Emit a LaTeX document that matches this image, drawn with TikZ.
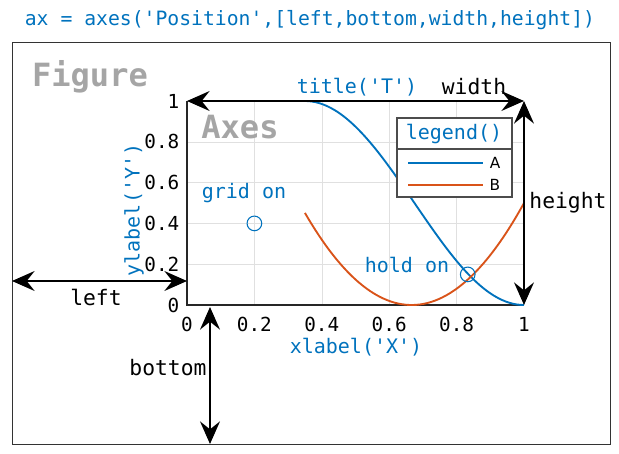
\documentclass[tikz,border=0pt]{standalone}
\usepackage{fontspec}
\setmainfont{DejaVu Sans Mono}
\newfontfamily\lab{DejaVu Sans}
\usetikzlibrary{arrows.meta}
\definecolor{mblue}{RGB}{0,114,189}
\definecolor{morange}{RGB}{217,83,25}
\definecolor{lgray}{RGB}{165,165,165}
\newcommand\q{\textquotesingle}
\begin{document}
\begin{tikzpicture}[x=0.75pt,y=-0.75pt,
  dim/.style={{Stealth[length=17pt,width=15pt,inset=6pt]}-{Stealth[length=17pt,width=15pt,inset=6pt]},line width=1pt},
  tick/.style={font=\fontsize{14.5}{16}\selectfont},
  btxt/.style={text=mblue,font=\fontsize{15}{17}\selectfont},
  ktxt/.style={font=\fontsize{16}{18}\selectfont},
  big/.style={text=lgray,font=\bfseries\fontsize{24}{26}\selectfont}]
\useasboundingbox (0,0) rectangle (619,454);
\node[btxt,font=\fontsize{14.8}{16}\selectfont] (cmd) at (310,20) {ax = axes(\q Position\q,[left,bottom,width,height])};
\draw[line width=0.7pt,black!80] (12,42) rectangle (610,444);
\node[big] (fig) at (90,77) {Figure};
% grid
\foreach \u in {0.2,0.4,0.6,0.8}{\draw[black!12] ({187+337*\u},101) -- ({187+337*\u},305);}
\foreach \v in {0.2,0.4,0.6,0.8}{\draw[black!12] (187,{305-204*\v}) -- (524,{305-204*\v});}
\node[big] (axl) at (240,127) {Axes};
% axes lines
\draw[line width=0.8pt,black!85] (187,101) coordinate (tl) -- (187,305) coordinate (o) -- (524,305) coordinate (br);
\coordinate (tr) at (524,101);
\foreach \u/\t in {0/0,0.2/0.2,0.4/0.4,0.6/0.6,0.8/0.8,1/1}{\node[tick] at ({187+337*\u},324) {\t};}
\foreach \v/\t in {0/0,0.2/0.2,0.4/0.4,0.6/0.6,0.8/0.8,1/1}{\node[tick,anchor=east] at (184,{305-204*\v}) {\t};}
% curves
\draw[mblue,line width=1.4pt] plot[domain=0.35:1,samples=60,smooth] ({187+337*\x},{305-204*(1+cos(180*(\x-0.35)/0.65))/2});
\draw[morange,line width=1.4pt] plot[domain=0.35:1,samples=60,smooth] ({187+337*\x},{305-204*4.5*(\x-0.6667)^2});
\node[draw=mblue,circle,minimum size=11pt,inner sep=0pt,thick] (gc) at ({187+337*0.2},{305-204*0.4}) {};
\node[draw=mblue,circle,minimum size=11pt,inner sep=0pt,thick] (hc) at ({187+337*0.833},{305-204*0.15}) {};
\node[btxt] (grid) at (244,193) {grid on};
\node[btxt] (hold) at (407,265) {hold on};
\node[btxt,rotate=90] (yl) at (134,210) {ylabel(\q Y\q)};
\node[btxt] (xl) at (356,347) {xlabel(\q X\q)};
\node[btxt] (tt) at (357,87) {title(\q T\q)};
% legend
\draw[fill=white,draw=black!70,line width=0.8pt] (397,118) rectangle (512,197);
\draw[black!70,line width=0.8pt] (397,149) -- (512,149);
\node[btxt] (lg) at (454,134) {legend()};
\draw[mblue,line width=1.4pt] (408,163) -- (483,163);
\draw[morange,line width=1.4pt] (408,185) -- (483,185);
\node[font=\lab\fontsize{11.5}{13}\selectfont] (la) at (495,163) {A};
\node[font=\lab\fontsize{11.5}{13}\selectfont] (lb) at (495,185) {B};
% dimensions
\draw[dim] (tl) -- (tr);
\draw[dim] (tr) -- (br);
\node[ktxt] (w) at (474,87) {width};
\node[ktxt] (h) at (568,203) {height};
\coordinate (lf) at (12,281); \coordinate (lt) at (187,281);
\draw[dim] (lf) -- (lt);
\node[ktxt] (l) at (96,297) {left};
\coordinate (bt) at (210,307); \coordinate (bb) at (210,444);
\draw[dim] (bt) -- (bb);
\node[ktxt] (b) at (168,368) {bottom};
\end{tikzpicture}
\end{document}
